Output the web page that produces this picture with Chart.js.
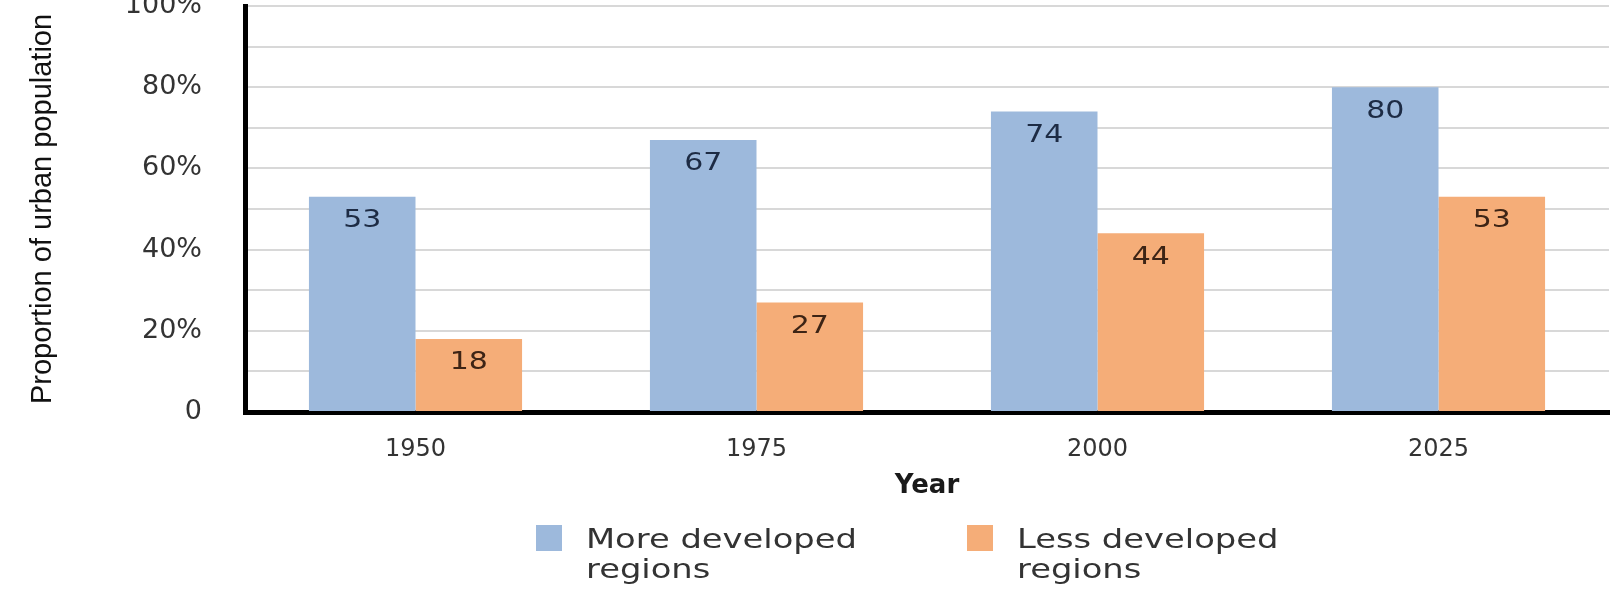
<!DOCTYPE html>
<html><head><meta charset="utf-8">
<script src="https://cdn.jsdelivr.net/npm/chart.js@4.4.0/dist/chart.umd.min.js"></script>
<style>
html,body{margin:0;padding:0;background:#fff;width:1624px;height:590px;overflow:hidden;position:relative}
#wrap{position:absolute;left:0;top:-64px;width:1624px;height:654px}
#legend{position:absolute;left:0;top:0;width:1624px;height:590px;pointer-events:none}
.item{position:absolute;top:524px;display:block}
.sw{position:absolute;left:0;top:1px;width:26px;height:26px}
.txt{position:absolute;left:50px;top:0;white-space:nowrap;font-family:'DejaVu Sans';font-size:27px;line-height:30px;color:#333;transform:scaleX(1.25);transform-origin:0 0}
</style></head>
<body>
<div id="wrap"><canvas id="c" width="1624" height="654"></canvas></div>
<div id="legend"></div>
<script>
const categories = ['1950', '1975', '2000', '2025'];
const moreDeveloped = [53, 67, 74, 80];
const lessDeveloped = [18, 27, 44, 53];
const seriesNames = [['More developed', 'regions'], ['Less developed', 'regions']];
const yTickValues = [0, 20, 40, 60, 80, 100];
const yTickLabels = ['0', '20%', '40%', '60%', '80%', '100%'];
const yTitle = 'Proportion of urban population';
const xTitle = 'Year';

const colors = ['#9db9dc', '#f5ad78'];
const labelColors = ['#1d2b44', '#3d2415'];

const valueLabels = {
  id: 'valueLabels',
  afterDatasetsDraw(chart) {
    const ctx = chart.ctx;
    chart.data.datasets.forEach((ds, di) => {
      const meta = chart.getDatasetMeta(di);
      meta.data.forEach((el, i) => {
        ctx.save();
        ctx.font = '25px "DejaVu Sans"';
        ctx.textAlign = 'center';
        ctx.textBaseline = 'middle';
        ctx.fillStyle = labelColors[di];
        ctx.translate(el.x, el.y + 24);
        ctx.scale(1.2, 1);
        ctx.fillText(String(ds.data[i]), 0, 0);
        ctx.restore();
      });
    });
  }
};

new Chart(document.getElementById('c'), {
  type: 'bar',
  data: {
    labels: categories,
    datasets: [
      { label: seriesNames[0].join(' '), data: moreDeveloped, backgroundColor: colors[0], barPercentage: 1, categoryPercentage: 0.625 },
      { label: seriesNames[1].join(' '), data: lessDeveloped, backgroundColor: colors[1], barPercentage: 1, categoryPercentage: 0.625 }
    ]
  },
  options: {
    responsive: false,
    animation: false,
    devicePixelRatio: 1,
    layout: { padding: { top: 70, right: 15, bottom: 88, left: 0 } },
    plugins: { legend: { display: false }, tooltip: { enabled: false } },
    scales: {
      x: {
        grid: { display: false, drawTicks: false },
        border: { display: true, color: '#000', width: 5 },
        ticks: { color: '#333', padding: 23, font: { family: 'DejaVu Sans', size: 24 } },
        title: { display: true, text: xTitle, color: '#1a1a1a', padding: { top: 6, bottom: 0 }, font: { family: 'DejaVu Sans', size: 26, weight: 'bold' } },
        afterFit(s) { s.height = 90; }
      },
      y: {
        min: 0, max: 100,
        grid: { color: '#d8d8d8', lineWidth: 2, drawTicks: false },
        border: { display: true, color: '#000', width: 5 },
        ticks: {
          stepSize: 10, padding: 43, color: '#333',
          font: { family: 'DejaVu Sans', size: 27 },
          callback(v) { const k = yTickValues.indexOf(v); return k >= 0 ? yTickLabels[k] : ''; }
        },
        title: { display: true, text: yTitle, color: '#111', padding: { top: 26, bottom: 0 }, font: { family: 'Liberation Sans', size: 29 } },
        afterFit(s) { s.width = 245; }
      }
    }
  },
  plugins: [valueLabels]
});

const legendLeft = [536, 967];
const lg = document.getElementById('legend');
seriesNames.forEach((lines, i) => {
  const it = document.createElement('div');
  it.className = 'item';
  it.style.left = legendLeft[i] + 'px';
  const sw = document.createElement('div');
  sw.className = 'sw';
  sw.style.background = colors[i];
  const tx = document.createElement('div');
  tx.className = 'txt';
  tx.innerHTML = lines.join('<br>');
  it.appendChild(sw); it.appendChild(tx);
  lg.appendChild(it);
});
</script>
</body></html>
